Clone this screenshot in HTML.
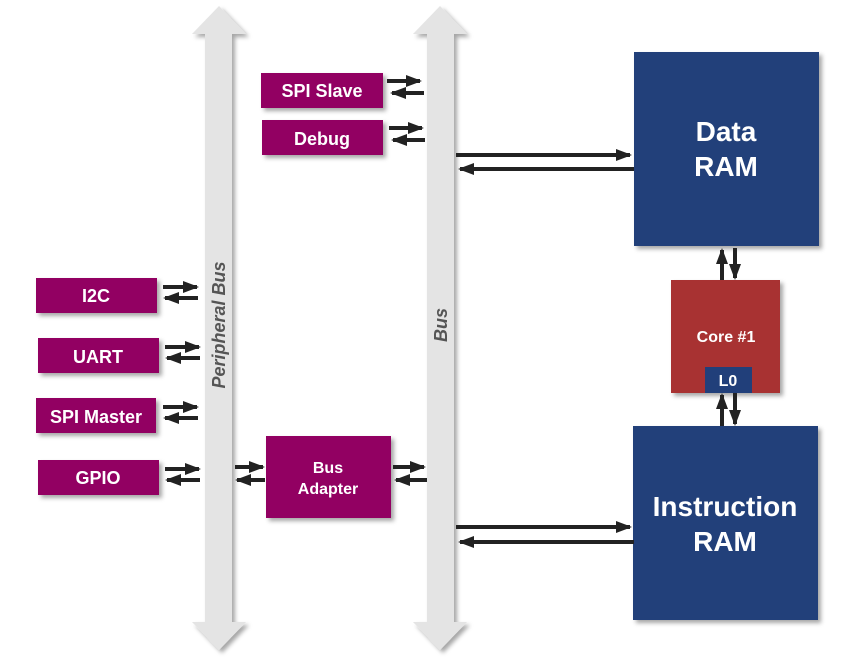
<!DOCTYPE html>
<html><head><style>body{margin:0;background:#fff}svg{display:block}text{font-family:"Liberation Sans",sans-serif;font-weight:bold}</style></head><body>
<svg width="842" height="662" viewBox="0 0 842 662" xmlns="http://www.w3.org/2000/svg">
<defs>
<filter id="sh" x="-10%" y="-10%" width="130%" height="130%"><feDropShadow dx="3" dy="3" stdDeviation="2" flood-color="#000" flood-opacity="0.35"/></filter>
<marker id="ah" markerWidth="4" markerHeight="4" refX="3.5" refY="2" orient="auto" markerUnits="strokeWidth"><path d="M0,0.5 L4,2 L0,3.5 z" fill="#222"/></marker>
</defs>
<g fill="#e4e4e4" filter="url(#sh)">
<polygon points="219,6 246,34 232,34 232,622 246,622 219,650 192,622 205,622 205,34 192,34"/>
<polygon points="440,6 467,34 454,34 454,622 467,622 440,650 413,622 427,622 427,34 413,34"/>
</g>
<text transform="translate(225,325) rotate(-90)" text-anchor="middle" font-size="18" font-style="italic" fill="#555">Peripheral Bus</text>
<text transform="translate(447,325) rotate(-90)" text-anchor="middle" font-size="18" font-style="italic" fill="#555">Bus</text>
<g filter="url(#sh)">
<rect x="261" y="73" width="122" height="35" fill="#920062"/>
<rect x="262" y="120" width="121" height="35" fill="#920062"/>
<rect x="36" y="278" width="121" height="35" fill="#920062"/>
<rect x="38" y="338" width="121" height="35" fill="#920062"/>
<rect x="36" y="398" width="120" height="35" fill="#920062"/>
<rect x="38" y="460" width="121" height="35" fill="#920062"/>
<rect x="266" y="436" width="125" height="82" fill="#920062"/>
<rect x="634" y="52" width="185" height="194" fill="#213f7a"/>
<rect x="633" y="426" width="185" height="194" fill="#213f7a"/>
<rect x="671" y="280" width="109" height="113" fill="#a83230"/>
</g>
<rect x="705" y="367" width="47" height="26" fill="#213f7a"/>
<g fill="#fff" text-anchor="middle">
<text x="322" y="97" font-size="18">SPI Slave</text>
<text x="322" y="145" font-size="18">Debug</text>
<text x="96" y="302" font-size="18">I2C</text>
<text x="98" y="363" font-size="18">UART</text>
<text x="96" y="423" font-size="18">SPI Master</text>
<text x="98" y="484" font-size="18">GPIO</text>
<text x="328" y="473" font-size="16">Bus</text>
<text x="328" y="494" font-size="16">Adapter</text>
<text x="726" y="141" font-size="28">Data</text>
<text x="726" y="176" font-size="28">RAM</text>
<text x="725" y="516" font-size="28">Instruction</text>
<text x="725" y="551" font-size="28">RAM</text>
<text x="726" y="342" font-size="16">Core  #1</text>
<text x="728" y="386" font-size="16">L0</text>
</g>
<g stroke="#222" stroke-width="4" marker-end="url(#ah)">
<line x1="387" y1="81" x2="420" y2="81"/><line x1="424" y1="93" x2="392" y2="93"/>
<line x1="389" y1="128" x2="422" y2="128"/><line x1="425" y1="140" x2="393" y2="140"/>
<line x1="456" y1="155" x2="630" y2="155"/><line x1="634" y1="169" x2="460" y2="169"/>
<line x1="456" y1="527" x2="630" y2="527"/><line x1="634" y1="542" x2="460" y2="542"/>
<line x1="163" y1="287" x2="197" y2="287"/><line x1="198" y1="298" x2="165" y2="298"/>
<line x1="165" y1="347" x2="199" y2="347"/><line x1="200" y1="358" x2="167" y2="358"/>
<line x1="163" y1="407" x2="197" y2="407"/><line x1="198" y1="418" x2="165" y2="418"/>
<line x1="165" y1="469" x2="199" y2="469"/><line x1="200" y1="480" x2="167" y2="480"/>
<line x1="235" y1="467" x2="263" y2="467"/><line x1="265" y1="480" x2="237" y2="480"/>
<line x1="393" y1="467" x2="424" y2="467"/><line x1="427" y1="480" x2="396" y2="480"/>
<line x1="722" y1="280" x2="722" y2="250"/><line x1="735" y1="248" x2="735" y2="278"/>
<line x1="722" y1="426" x2="722" y2="395"/><line x1="735" y1="393" x2="735" y2="424"/>
</g>
</svg>
</body></html>
